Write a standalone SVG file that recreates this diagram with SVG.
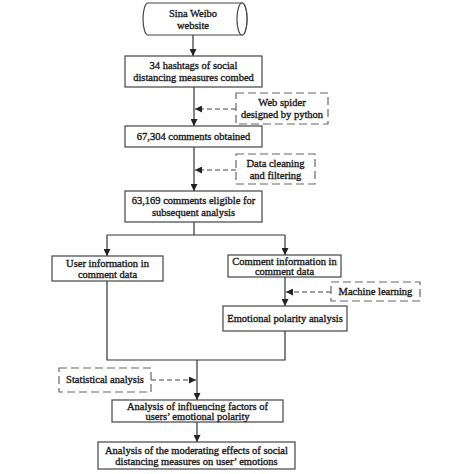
<svg xmlns="http://www.w3.org/2000/svg" width="474" height="474" viewBox="0 0 474 474">
<defs>
<marker id="ah" viewBox="0 0 10 10" refX="10" refY="5" markerWidth="7" markerHeight="7" markerUnits="userSpaceOnUse" orient="auto">
<path d="M0,0 L10,5 L0,10 Z" fill="#222"/>
</marker>
</defs>
<style>
.box{fill:#fff;stroke:#444;stroke-width:1.2}
.dbox{fill:#fff;stroke:#666;stroke-width:1.2;stroke-dasharray:8,4}
.ln{fill:none;stroke:#333;stroke-width:1.2}
.dl{fill:none;stroke:#444;stroke-width:1.2;stroke-dasharray:5,3}
text{font-family:"Liberation Serif","Times New Roman",serif;font-size:10.5px;fill:#1a1a1a;stroke:#1a1a1a;stroke-width:0.35;text-anchor:middle}
</style>
<rect width="474" height="474" fill="#fff"/>
<g id="connectors">
<line class="ln" x1="193" y1="35" x2="193" y2="56" marker-end="url(#ah)"/>
<line class="ln" x1="194" y1="87" x2="194" y2="126" marker-end="url(#ah)"/>
<line class="dl" x1="236" y1="109" x2="195" y2="109" marker-end="url(#ah)"/>
<line class="ln" x1="194" y1="147" x2="194" y2="191" marker-end="url(#ah)"/>
<line class="dl" x1="236" y1="170" x2="195" y2="170" marker-end="url(#ah)"/>
<line class="ln" x1="194" y1="222" x2="194" y2="235"/>
<line class="ln" x1="107" y1="235" x2="285" y2="235"/>
<line class="ln" x1="107" y1="235" x2="107" y2="256" marker-end="url(#ah)"/>
<line class="ln" x1="285" y1="235" x2="285" y2="255" marker-end="url(#ah)"/>
<line class="ln" x1="285" y1="277" x2="285" y2="306" marker-end="url(#ah)"/>
<line class="dl" x1="331" y1="292" x2="286" y2="292" marker-end="url(#ah)"/>
<polyline class="ln" points="107,281 107,360 285,360 285,331"/>
<line class="ln" x1="197" y1="360" x2="197" y2="400" marker-end="url(#ah)"/>
<line class="dl" x1="151" y1="380" x2="196" y2="380" marker-end="url(#ah)"/>
<line class="ln" x1="197" y1="422" x2="197" y2="442" marker-end="url(#ah)"/>
</g>
<g id="n-weibo">
<path class="box" d="M148,3 H242 A5,16 0 0 1 242,35 H148 A5,16 0 0 1 148,3 Z"/>
<ellipse class="box" cx="242" cy="19" rx="5" ry="16"/>
<text x="193" y="17">Sina Weibo</text>
<text x="193" y="29">website</text>
</g>
<g id="n-hashtags">
<rect class="box" x="125" y="56" width="137" height="31"/>
<text x="193.5" y="69">34 hashtags of social</text>
<text x="193.5" y="81">distancing measures combed</text>
</g>
<g id="n-spider">
<rect class="dbox" x="236" y="93" width="92" height="31"/>
<text x="282" y="106">Web spider</text>
<text x="282" y="118">designed by python</text>
</g>
<g id="n-obtained">
<rect class="box" x="125" y="126" width="137" height="21"/>
<text x="193.5" y="140">67,304 comments obtained</text>
</g>
<g id="n-cleaning">
<rect class="dbox" x="236" y="154" width="79" height="30"/>
<text x="275.5" y="167">Data cleaning</text>
<text x="275.5" y="179">and filtering</text>
</g>
<g id="n-eligible">
<rect class="box" x="125" y="191" width="137" height="31"/>
<text x="193.5" y="204">63,169 comments eligible for</text>
<text x="193.5" y="216">subsequent analysis</text>
</g>
<g id="n-user">
<rect class="box" x="52" y="256" width="111" height="25"/>
<text x="107.5" y="267">User information in</text>
<text x="107.5" y="278">comment data</text>
</g>
<g id="n-comment">
<rect class="box" x="228" y="255" width="113" height="22"/>
<text x="284.5" y="265">Comment information in</text>
<text x="284.5" y="275">comment data</text>
</g>
<g id="n-ml">
<rect class="dbox" x="331" y="282" width="89" height="19"/>
<text x="375.5" y="295">Machine learning</text>
</g>
<g id="n-emotional">
<rect class="box" x="223" y="306" width="124" height="25"/>
<text x="285" y="322">Emotional polarity analysis</text>
</g>
<g id="n-stat">
<rect class="dbox" x="59" y="368" width="92" height="24"/>
<text x="105" y="383">Statistical analysis</text>
</g>
<g id="n-factors">
<rect class="box" x="112" y="400" width="171" height="22"/>
<text x="197.5" y="409.5">Analysis of influencing factors of</text>
<text x="197.5" y="420">users’ emotional polarity</text>
</g>
<g id="n-moderating">
<rect class="box" x="98" y="442" width="197" height="27"/>
<text x="196.5" y="453.5">Analysis of the moderating effects of social</text>
<text x="196.5" y="465">distancing measures on user’ emotions</text>
</g>
</svg>
